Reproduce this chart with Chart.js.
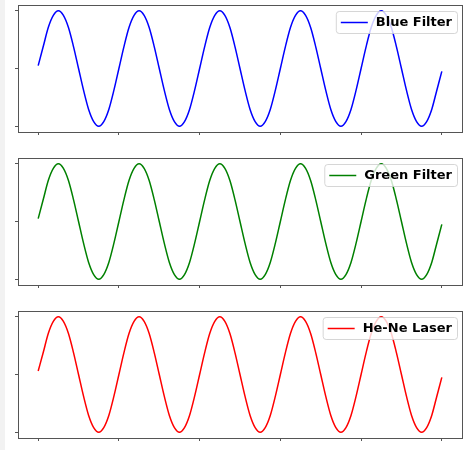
<!DOCTYPE html>
<html>
<head>
<meta charset="utf-8">
<script src="https://cdn.jsdelivr.net/npm/chart.js@4.4.1/dist/chart.umd.min.js"></script>
<style>
  html, body { margin: 0; padding: 0; background: #fff; overflow: hidden; }
  body { width: 474px; height: 450px; position: relative; }
  .strip { position: absolute; left: 0; top: 0; width: 5px; height: 450px; background: #f2f2f2; }
  .panel { position: absolute; left: 0; width: 474px; height: 140px; }
</style>
</head>
<body>
<div class="strip"></div>
<div class="panel" style="top:0px"><canvas id="blueChart" width="474" height="140"></canvas></div>
<div class="panel" style="top:153px"><canvas id="greenChart" width="474" height="140"></canvas></div>
<div class="panel" style="top:306px"><canvas id="redChart" width="474" height="140"></canvas></div>

<script>
/* ── Data (1/16 fringe steps) ── */
const xPos = [
  0, 0.0625, 0.125, 0.1875, 0.25, 0.3125, 0.375, 0.4375,
  0.5, 0.5625, 0.625, 0.6875, 0.75, 0.8125, 0.875, 0.9375,
  1, 1.0625, 1.125, 1.1875, 1.25, 1.3125, 1.375, 1.4375,
  1.5, 1.5625, 1.625, 1.6875, 1.75, 1.8125, 1.875, 1.9375,
  2, 2.0625, 2.125, 2.1875, 2.25, 2.3125, 2.375, 2.4375,
  2.5, 2.5625, 2.625, 2.6875, 2.75, 2.8125, 2.875, 2.9375,
  3, 3.0625, 3.125, 3.1875, 3.25, 3.3125, 3.375, 3.4375,
  3.5, 3.5625, 3.625, 3.6875, 3.75, 3.8125, 3.875, 3.9375,
  4, 4.0625, 4.125, 4.1875, 4.25, 4.3125, 4.375, 4.4375,
  4.5, 4.5625, 4.625, 4.6875, 4.75, 4.8125, 4.875, 4.9375,
  5
];

const blueY = [
  0.05, 0.38, 0.71, 0.92, 1, 0.92, 0.71, 0.38, 0, -0.38, -0.71, -0.92, -1, -0.92, -0.71, -0.38,
  0, 0.38, 0.71, 0.92, 1, 0.92, 0.71, 0.38, 0, -0.38, -0.71, -0.92, -1, -0.92, -0.71, -0.38,
  0, 0.38, 0.71, 0.92, 1, 0.92, 0.71, 0.38, 0, -0.38, -0.71, -0.92, -1, -0.92, -0.71, -0.38,
  0, 0.38, 0.71, 0.92, 1, 0.92, 0.71, 0.38, 0, -0.38, -0.71, -0.92, -1, -0.92, -0.71, -0.38,
  0, 0.38, 0.71, 0.92, 1, 0.92, 0.71, 0.38, 0, -0.38, -0.71, -0.92, -1, -0.92, -0.71, -0.38,
  -0.05
];

const greenY = [
  0.05, 0.38, 0.71, 0.92, 1, 0.92, 0.71, 0.38, 0, -0.38, -0.71, -0.92, -1, -0.92, -0.71, -0.38,
  0, 0.38, 0.71, 0.92, 1, 0.92, 0.71, 0.38, 0, -0.38, -0.71, -0.92, -1, -0.92, -0.71, -0.38,
  0, 0.38, 0.71, 0.92, 1, 0.92, 0.71, 0.38, 0, -0.38, -0.71, -0.92, -1, -0.92, -0.71, -0.38,
  0, 0.38, 0.71, 0.92, 1, 0.92, 0.71, 0.38, 0, -0.38, -0.71, -0.92, -1, -0.92, -0.71, -0.38,
  0, 0.38, 0.71, 0.92, 1, 0.92, 0.71, 0.38, 0, -0.38, -0.71, -0.92, -1, -0.92, -0.71, -0.38,
  -0.05
];

const redY = [
  0.06, 0.38, 0.71, 0.92, 1, 0.92, 0.71, 0.38, 0, -0.38, -0.71, -0.92, -1, -0.92, -0.71, -0.38,
  0, 0.38, 0.71, 0.92, 1, 0.92, 0.71, 0.38, 0, -0.38, -0.71, -0.92, -1, -0.92, -0.71, -0.38,
  0, 0.38, 0.71, 0.92, 1, 0.92, 0.71, 0.38, 0, -0.38, -0.71, -0.92, -1, -0.92, -0.71, -0.38,
  0, 0.38, 0.71, 0.92, 1, 0.92, 0.71, 0.38, 0, -0.38, -0.71, -0.92, -1, -0.92, -0.71, -0.38,
  0, 0.38, 0.71, 0.92, 1, 0.92, 0.71, 0.38, 0, -0.38, -0.71, -0.92, -1, -0.92, -0.71, -0.38,
  -0.05
];

const xTicks = [0, 1, 2, 3, 4, 5];
const yTicks = [-1, 0, 1];

const SPINE = '#555555';

/* ── Frame + in-axes legend (drawn over the line, like matplotlib) ── */
const frameLegend = {
  id: 'frameLegend',
  afterDatasetsDraw(chart) {
    const { ctx, chartArea: a } = chart;
    ctx.save();
    ctx.strokeStyle = SPINE;
    ctx.lineWidth = 1;
    ctx.strokeRect(Math.round(a.left) + 0.5, Math.round(a.top) + 0.5,
                   Math.round(a.right - a.left), Math.round(a.bottom - a.top));

    const ds = chart.data.datasets[0];
    ctx.font = 'bold 13px "DejaVu Sans", sans-serif';
    const textW = ctx.measureText(ds.label).width;
    const w = 5 + 27 + 8 + textW + 5;
    const h = 22;
    const x = a.right - 5 - w;
    const y = a.top + 6;

    ctx.beginPath();
    ctx.roundRect(x + 0.5, y + 0.5, w, h, 3);
    ctx.fillStyle = 'rgba(255,255,255,0.8)';
    ctx.fill();
    ctx.strokeStyle = 'rgba(204,204,204,0.8)';
    ctx.stroke();

    ctx.beginPath();
    ctx.moveTo(x + 5, y + h / 2 + 0.5);
    ctx.lineTo(x + 32, y + h / 2 + 0.5);
    ctx.strokeStyle = ds.borderColor;
    ctx.lineWidth = 1.5;
    ctx.stroke();

    ctx.fillStyle = '#000';
    ctx.textBaseline = 'middle';
    ctx.fillText(ds.label, x + 40, y + h / 2 + 1);
    ctx.restore();
  }
};

function axisOpts(min, max, tickVals) {
  return {
    type: 'linear',
    min: min,
    max: max,
    afterBuildTicks: axis => { axis.ticks = tickVals.map(v => ({ value: v })); },
    ticks: { display: false },
    grid: {
      drawOnChartArea: false,
      drawTicks: true,
      tickLength: 3,
      tickColor: SPINE,
      tickWidth: 1
    },
    border: { display: true, color: SPINE, width: 1 }
  };
}

function renderPanel(id, label, color, ys) {
  const canvas = document.getElementById(id);
  new Chart(canvas, {
    type: 'line',
    data: {
      datasets: [{
        label: label,
        data: xPos.map((x, i) => ({ x: x, y: ys[i] })),
        borderColor: color,
        borderWidth: 1.5,
        pointRadius: 0,
        fill: false,
        cubicInterpolationMode: 'monotone'
      }]
    },
    options: {
      responsive: false,
      animation: false,
      layout: { padding: { left: 15, right: 12, top: 5, bottom: 5 } },
      plugins: { legend: { display: false }, tooltip: { enabled: false } },
      scales: {
        x: axisOpts(-0.25, 5.25, xTicks),
        y: axisOpts(-1.1, 1.1, yTicks)
      }
    },
    plugins: [frameLegend]
  });
}

/* ── Init ── */
renderPanel('blueChart', 'Blue Filter', '#0000ff', blueY);
renderPanel('greenChart', 'Green Filter', '#008000', greenY);
renderPanel('redChart', 'He-Ne Laser', '#ff0000', redY);
</script>
</body>
</html>
